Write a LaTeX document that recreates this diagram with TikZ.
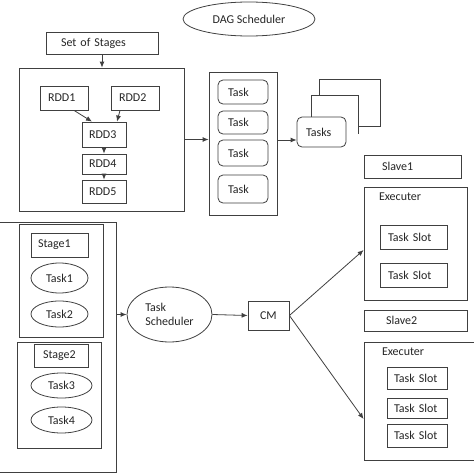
\documentclass[tikz,border=0pt]{standalone}
\usepackage{fontspec}
\setmainfont{Carlito}
\usetikzlibrary{positioning, arrows.meta, shapes.geometric, calc}

\begin{document}
\begin{tikzpicture}[
        x=1pt, y=-1pt,
        >={Latex[length=6pt, width=5pt]},
        line width=0.8pt,
        font=\fontsize{12}{14}\selectfont,
        box/.style={draw=black!75, fill=white, rectangle, inner ysep=0pt, inner xsep=8pt, align=left, text=black!85},
        round/.style={box, rounded corners=5pt},
        oval/.style={draw=black!75, fill=white, ellipse, inner sep=0pt, text=black!85},
        frame/.style={draw=black!75, fill=white, rectangle, inner sep=0pt},
        link/.style={draw=black!75, ->},
        exe/.style={frame, label={[anchor=north west, inner sep=0pt, xshift=#1, yshift=-6pt, text=black!85]north west:Executer}},
    ]
    \clip (0,0) rectangle (474,474);

    % Draw the DAG scheduler and its stages
    \node[oval, minimum width=132, minimum height=34] (dag) at (249,19) {DAG Scheduler};
    \node[box, minimum width=112, text width=82, inner xsep=15, minimum height=22] (stages) at (102,43) {Set of Stages};
    \node[frame, minimum width=165, minimum height=143] (graph) at (101.5,139.5) {};

    % Draw the RDD nodes
    \foreach \name / \x / \y / \h in {1/64/98/24, 2/135/98/24}
        \node[box, minimum width=48, text width=32, minimum height=\h] (R-\name) at (\x,\y) {RDD\name};
    \foreach \name / \y / \h in {3/134.5/25, 4/164/20, 5/191.5/23}
        \node[box, minimum width=44, text width=30, inner xsep=7, minimum height=\h] (R-\name) at (104,\y) {RDD\name};

    % Draw the column of tasks
    \node[frame, minimum width=68, minimum height=143] (col) at (243,143.5) {};
    \foreach \name / \y / \h in {1/92/24, 2/122.5/23, 3/153/26, 4/189/28}
        \node[round, minimum width=50, text width=30, inner xsep=10, minimum height=\h] (C-\name) at (243,\y) {Task};

    % Draw the stack of task sheets
    \draw[draw=black!75, fill=white] (319,95) |- (380,79) |- (358,126);
    \draw[draw=black!75, fill=white] (311,117) |- (358,95) -- (358,134);
    \node[round, minimum width=49, text width=31, inner xsep=9, minimum height=30] (tasks) at (321.5,132) {Tasks};

    % Draw the task set with its two stages
    \node[frame, minimum width=119, minimum height=250] (taskset) at (56.5,347) {};
    \node[frame, minimum width=84, minimum height=113] (G-1) at (61,280.5) {};
    \node[frame, minimum width=84, minimum height=106] (G-2) at (59,395) {};
    \node[box, minimum width=57, text width=43, inner xsep=7, minimum height=24] (St-1) at (59.5,245) {Stage1};
    \node[box, minimum width=54, text width=36, inner xsep=9, minimum height=23] (St-2) at (61,355.5) {Stage2};
    \foreach \name / \x / \y / \w / \h in {1/59.5/278/57/30, 2/59.5/314/57/26, 3/61.5/385.5/61/25, 4/61.5/420/61/26}
        \node[oval, minimum width=\w, minimum height=\h] (T-\name) at (\x,\y) {Task\name};

    % Draw the task scheduler and the cluster manager
    \node[oval, minimum width=85, minimum height=55, align=left] (sched) at (169.5,314.5) {Task\\Scheduler};
    \node[box, minimum width=41, text width=17, inner xsep=12, minimum height=29] (cm) at (268.5,315.5) {CM};

    % Draw the slaves and their executers
    \node[box, minimum width=97, text width=61, inner xsep=18, minimum height=23] (Sl-1) at (412.5,166.5) {Slave1};
    \node[exe=15pt, minimum width=103, minimum height=113] (E-1) at (415.5,243.5) {};
    \foreach \name / \y / \h in {1/237/24, 2/275/24}
        \node[box, minimum width=67, text width=51, minimum height=\h] (S1-\name) at (413.5,\y) {Task Slot};
    \node[box, minimum width=103, text width=59, inner xsep=22, minimum height=21] (Sl-2) at (415.5,320.5) {Slave2};
    \node[exe=18pt, minimum width=116, minimum height=118] (E-2) at (422,401) {};
    \foreach \name / \y / \h in {1/378/22, 2/408/20, 3/435.5/23}
        \node[box, minimum width=60, text width=46, inner xsep=7, minimum height=\h] (S2-\name) at (417,\y) {Task Slot};

    % Connect the nodes
    \draw[link] (stages.south) -- (stages.south |- graph.north);
    \draw[link] ([xshift=10pt]R-1.south) -- ([xshift=-12pt]R-3.north);
    \draw[link] ([xshift=-15pt]R-2.south) -- ([xshift=13pt]R-3.north);
    \draw[link] (R-3.south) -- (R-4.north);
    \draw[link] (R-4.south) -- (R-5.north);
    \draw[link] (graph.east) -- (graph.east -| col.west);
    \draw[link] ([yshift=-8pt]tasks.west -| col.east) -- ([yshift=-8pt]tasks.west);
    \draw[link] (taskset.east |- sched.west) -- (sched.west);
    \draw[link] (sched.east) -- (cm.west);
    \draw[link] (cm.east) -- ([yshift=-6.5pt]E-1.west);
    \draw[link] (cm.east) -- ([yshift=-18pt]E-2.west);
\end{tikzpicture}
\end{document}
